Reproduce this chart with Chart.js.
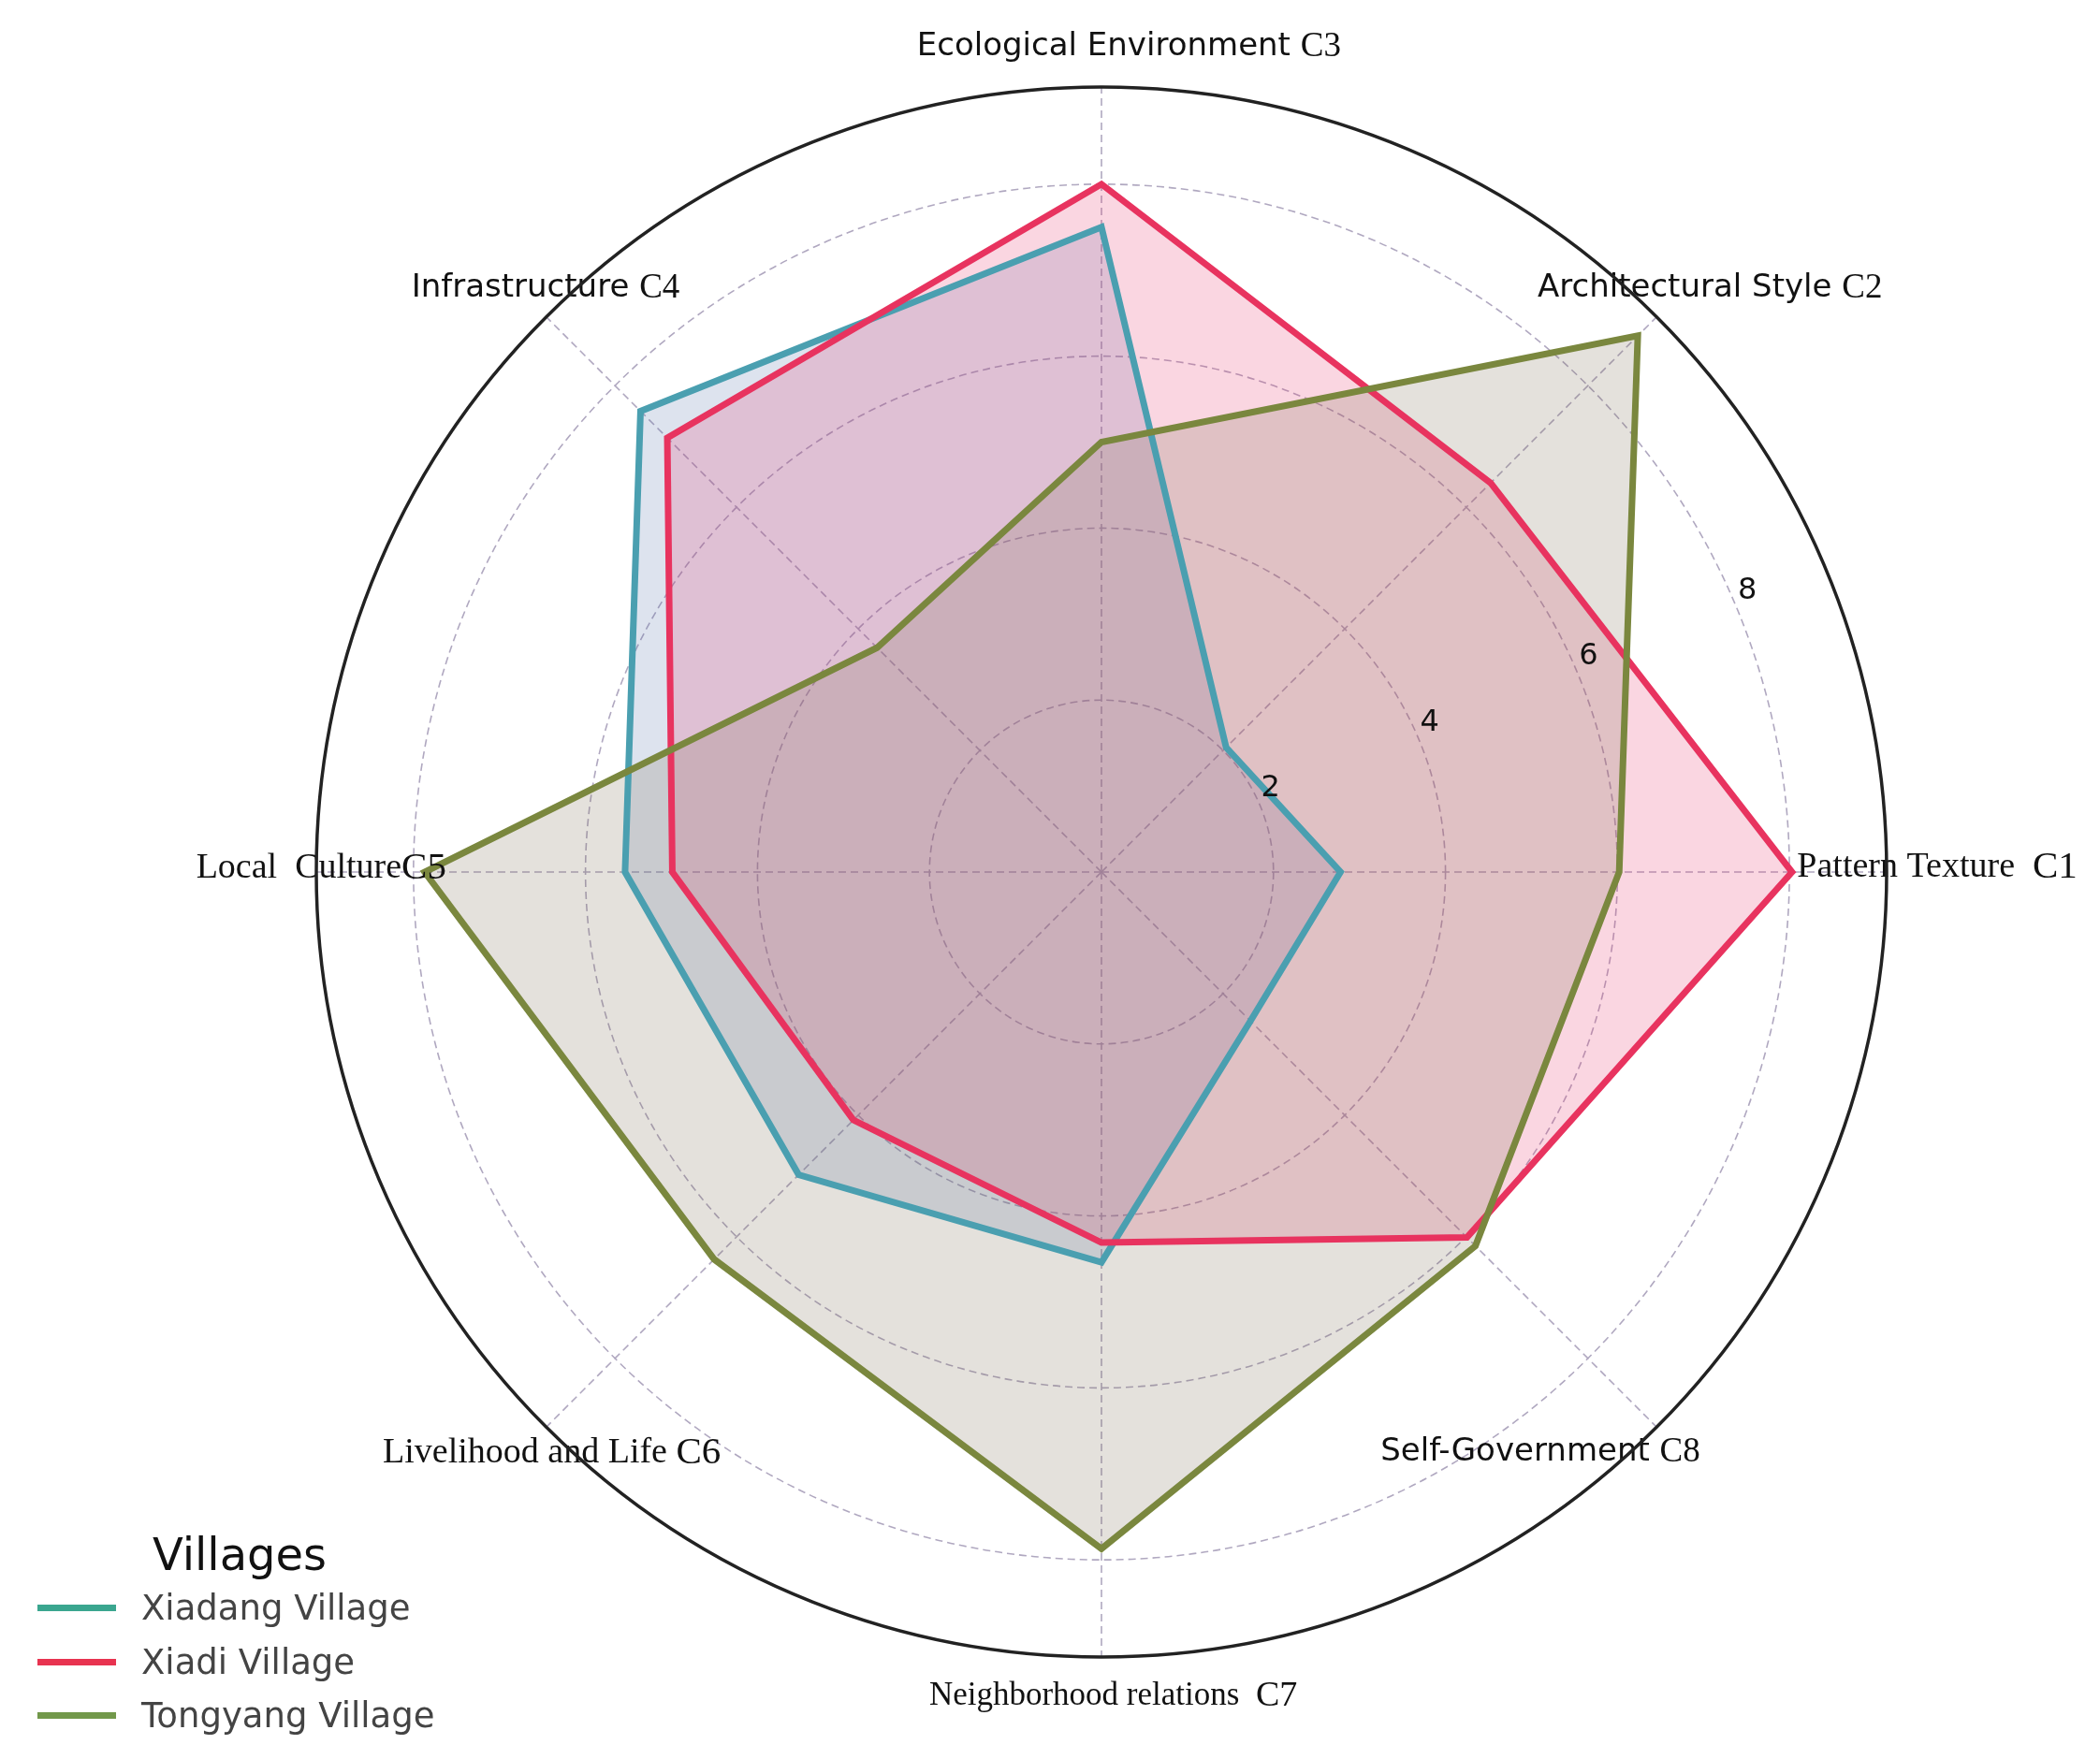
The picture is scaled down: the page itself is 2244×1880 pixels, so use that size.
<!DOCTYPE html>
<html>
<head>
<meta charset="utf-8">
<script src="https://cdn.jsdelivr.net/npm/chart.js"></script>
<style>
  html, body { margin: 0; padding: 0; background: #fff; }
  #wrap { position: relative; width: 2244px; height: 1880px; }
  #legend { position: absolute; left: 0; top: 0; font-family: "DejaVu Sans", sans-serif; }
  #legend .title { position: absolute; left: 156px; top: 1637px; width: 200px; text-align: center; font-size: 48px; line-height: 48px; color: #111; }
  #legend .item { position: absolute; left: 151px; font-size: 37px; line-height: 37px; color: #444; white-space: nowrap; }
  #legend .swatch { position: absolute; left: 40px; width: 84px; height: 7px; }
</style>
</head>
<body>
<div id="wrap">
  <canvas id="radar" width="2244" height="1880"></canvas>
  <div id="legend"></div>
</div>
<script>
// categories, counter-clockwise from the right (C1) as in the figure
const CATEGORIES = ["Pattern Texture", "Architectural Style", "Ecological Environment", "Infrastructure",
                    "Local  Culture", "Livelihood and Life", "Neighborhood relations", "Self-Government"];
const CODES = ["C1", "C2", "C3", "C4", "C5", "C6", "C7", "C8"];

const XIADANG  = [2.78, 2.05, 7.5, 7.58, 5.54, 4.98, 4.54, 2.45];
const XIADI    = [8.03, 6.4, 8.0, 7.14, 4.99, 4.08, 4.31, 6.01];
const TONGYANG = [6.02, 8.82, 5.0, 3.69, 7.87, 6.37, 7.87, 6.15];

const SERIES_NAMES = ["Xiadang Village", "Xiadi Village", "Tongyang Village"];
const TICKS = [2, 4, 6, 8];
const R_MAX = 9.13;

const LINE_COLORS = ["#4a9fb0", "#e8335f", "#7a873e"];
const FILL_COLORS = ["rgba(85,115,170,0.2)", "rgba(228,50,105,0.2)", "rgba(120,105,80,0.2)"];
const LEGEND_COLORS = ["#3aa68f", "#e83350", "#72984a"];

// Chart.js goes clockwise from startAngle, the figure goes counter-clockwise from the right
const ORDER = [0, 7, 6, 5, 4, 3, 2, 1];
const SERIES = [XIADANG, XIADI, TONGYANG];

const SERIF = '"Liberation Serif", "Times New Roman", serif';
const SANS = '"DejaVu Sans", sans-serif';

// where each category label sits, in units of the radius from the centre
const LABEL_LAYOUT = [
  { fx: 0.886, fy: -0.006, align: "left", serif: true, sep: "  ", size: 38 },
  { fx: 0.775, fy: -0.743, align: "center", serif: false, sep: " ", size: 34 },
  { fx: 0.035, fy: -1.051, align: "center", serif: false, sep: " ", size: 34 },
  { fx: -0.708, fy: -0.744, align: "center", serif: false, sep: " ", size: 34 },
  { fx: -1.153, fy: -0.005, align: "left", serif: true, sep: "", size: 38 },
  { fx: -0.700, fy: 0.740, align: "center", serif: true, sep: " ", size: 38 },
  { fx: 0.015, fy: 1.050, align: "center", serif: true, sep: "  ", size: 35 },
  { fx: 0.559, fy: 0.739, align: "center", serif: false, sep: " ", size: 34 }
];

const overlay = {
  id: "overlay",
  afterDraw(chart) {
    const s = chart.scales.r;
    const ctx = chart.ctx;
    const R = s.getDistanceFromCenterForValue(R_MAX);
    ctx.save();
    ctx.textBaseline = "middle";
    ctx.fillStyle = "#111";

    CATEGORIES.forEach((name, i) => {
      const lay = LABEL_LAYOUT[i];
      const codeFont = lay.size + 3 + "px " + SERIF;
      const nameFont = lay.size + "px " + (lay.serif ? SERIF : SANS);
      ctx.font = nameFont;
      const w1 = ctx.measureText(name + lay.sep).width;
      ctx.font = codeFont;
      const w2 = ctx.measureText(CODES[i]).width;
      let x = s.xCenter + lay.fx * R;
      const y = s.yCenter + lay.fy * R;
      if (lay.align === "center") x -= (w1 + w2) / 2;
      ctx.textAlign = "left";
      ctx.font = nameFont;
      ctx.fillText(name + lay.sep, x, y);
      ctx.font = codeFont;
      ctx.fillText(CODES[i], x + w1, y);
    });

    ctx.beginPath();
    ctx.arc(s.xCenter, s.yCenter, R, 0, Math.PI * 2);
    ctx.strokeStyle = "#222";
    ctx.lineWidth = 3.5;
    ctx.stroke();

    const a = 22.5 * Math.PI / 180;
    ctx.font = "32px " + SANS;
    ctx.textAlign = "center";
    ctx.fillStyle = "#111";
    TICKS.forEach(v => {
      const d = s.getDistanceFromCenterForValue(v);
      ctx.fillText(String(v), s.xCenter + Math.cos(a) * d + 11, s.yCenter - Math.sin(a) * d - 19);
    });
    ctx.restore();
  }
};

new Chart(document.getElementById("radar"), {
  type: "radar",
  data: {
    labels: ORDER.map(i => CATEGORIES[i] + " " + CODES[i]),
    datasets: SERIES.map((vals, k) => ({
      label: SERIES_NAMES[k],
      data: ORDER.map(i => vals[i]),
      borderColor: LINE_COLORS[k],
      backgroundColor: FILL_COLORS[k],
      borderWidth: 7,
      pointRadius: 0,
      pointHoverRadius: 0,
      fill: true,
      order: 3 - k
    }))
  },
  options: {
    responsive: false,
    devicePixelRatio: 1,
    animation: false,
    layout: { padding: { left: 338, right: 228, top: 93, bottom: 109 } },
    plugins: {
      legend: { display: false },
      tooltip: { enabled: false },
      filler: { drawTime: "beforeDatasetsDraw" }
    },
    elements: { line: { tension: 0, borderJoinStyle: "miter" } },
    scales: {
      r: {
        min: 0,
        max: R_MAX,
        bounds: "data",
        startAngle: 90,
        ticks: { display: false, stepSize: 2, includeBounds: false },
        pointLabels: { display: false },
        grid: { circular: true, color: "#b0a8c0", lineWidth: 1.6, borderDash: [8, 5] },
        border: { dash: [8, 5] },
        angleLines: { color: "#b0a8c0", lineWidth: 1.6, borderDash: [8, 5] }
      }
    }
  },
  plugins: [overlay]
});

const legend = document.getElementById("legend");
const title = document.createElement("div");
title.className = "title";
title.textContent = "Villages";
legend.appendChild(title);
SERIES_NAMES.forEach((name, k) => {
  const top = 1700 + k * 57.5;
  const sw = document.createElement("div");
  sw.className = "swatch";
  sw.style.top = (top + 15) + "px";
  sw.style.background = LEGEND_COLORS[k];
  legend.appendChild(sw);
  const it = document.createElement("div");
  it.className = "item";
  it.style.top = top + "px";
  it.textContent = name;
  legend.appendChild(it);
});
</script>
</body>
</html>
